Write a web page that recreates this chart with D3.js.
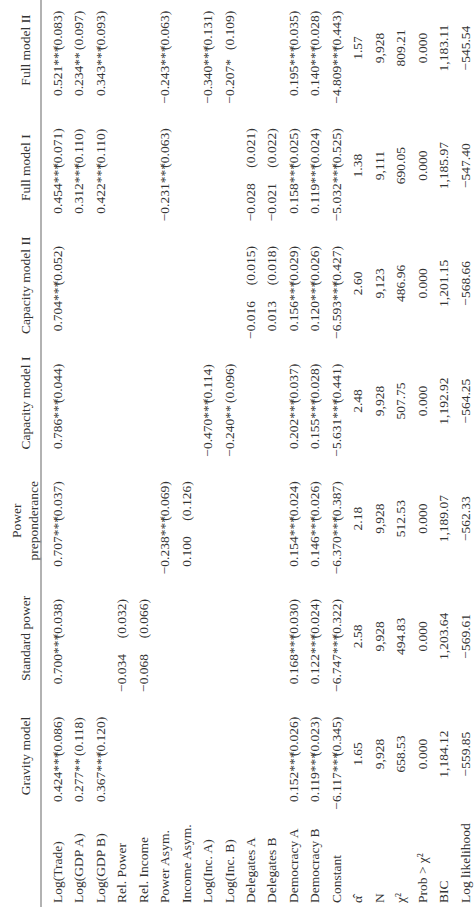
<!DOCTYPE html>
<html>
<head>
<meta charset="utf-8">
<script src="https://cdn.jsdelivr.net/npm/d3@7"></script>
<style>
  body { margin: 0; background: #fff; }
  text { font-family: "Liberation Serif", "DejaVu Serif", serif; font-size: 13.5px; fill: #333; }
</style>
</head>
<body>
<div id="chart"></div>
<script>
const models = ['Gravity model', 'Standard power', 'Power|preponderance', 'Capacity model I',
   'Capacity model II', 'Full model I', 'Full model II'];

const coefRows = ['Log(Trade)', 'Log(GDP A)', 'Log(GDP B)', 'Rel. Power', 'Rel. Income', 'Power Asym.',
   'Income Asym.', 'Log(Inc. A)', 'Log(Inc. B)', 'Delegates A', 'Delegates B', 'Democracy A',
   'Democracy B', 'Constant'];
const statRows = ['α̂', 'N', 'χ²', 'Prob > χ²', 'BIC', 'Log likelihood'];

// coefficient cells: [estimate, stars, se] or null, one list per model
const coefs = [
   [['0.424', '***', '0.086'], ['0.277', '**', '0.118'], ['0.367', '***', '0.120'], null, null, null, null, null, null, null, null,
    ['0.152', '***', '0.026'], ['0.119', '***', '0.023'], ['−6.117', '***', '0.345']],
   [['0.700', '***', '0.038'], null, null, ['−0.034', '', '0.032'], ['−0.068', '', '0.066'], null, null, null, null, null, null,
    ['0.168', '***', '0.030'], ['0.122', '***', '0.024'], ['−6.747', '***', '0.322']],
   [['0.707', '***', '0.037'], null, null, null, null, ['−0.238', '***', '0.069'], ['0.100', '', '0.126'], null, null, null, null,
    ['0.154', '***', '0.024'], ['0.146', '***', '0.026'], ['−6.370', '***', '0.387']],
   [['0.786', '***', '0.044'], null, null, null, null, null, null, ['−0.470', '***', '0.114'], ['−0.240', '**', '0.096'], null, null,
    ['0.202', '***', '0.037'], ['0.155', '***', '0.028'], ['−5.631', '***', '0.441']],
   [['0.704', '***', '0.052'], null, null, null, null, null, null, null, null, ['−0.016', '', '0.015'], ['0.013', '', '0.018'],
    ['0.156', '***', '0.029'], ['0.120', '***', '0.026'], ['−6.593', '***', '0.427']],
   [['0.454', '***', '0.071'], ['0.312', '***', '0.110'], ['0.422', '***', '0.110'], null, null, ['−0.231', '***', '0.063'], null, null, null,
    ['−0.028', '', '0.021'], ['−0.021', '', '0.022'], ['0.158', '***', '0.025'], ['0.119', '***', '0.024'], ['−5.032', '***', '0.525']],
   [['0.521', '***', '0.083'], ['0.234', '**', '0.097'], ['0.343', '***', '0.093'], null, null, ['−0.243', '***', '0.063'], null,
    ['−0.340', '***', '0.131'], ['−0.207', '*', '0.109'], null, null, ['0.195', '***', '0.035'], ['0.140', '***', '0.028'], ['−4.809', '***', '0.443']],
];

const alphaVals = ['1.65', '2.58', '2.18', '2.48', '2.60', '1.38', '1.57'];
const nVals = ['9,928', '9,928', '9,928', '9,928', '9,123', '9,111', '9,928'];
const chiVals = ['658.53', '494.83', '512.53', '507.75', '486.96', '690.05', '809.21'];
const probVals = ['0.000', '0.000', '0.000', '0.000', '0.000', '0.000', '0.000'];
const bicVals = ['1,184.12', '1,203.64', '1,189.07', '1,192.92', '1,201.15', '1,185.97', '1,183.11'];
const llVals = ['−559.85', '−569.61', '−562.33', '−564.25', '−568.66', '−547.40', '−545.54'];
const statVals = [alphaVals, nVals, chiVals, probVals, bicVals, llVals];

const W = 474, H = 907;
const svg = d3.select('#chart').append('svg').attr('width', W).attr('height', H);
// the table is laid out unrotated (width H, height W), then turned a quarter
const g = svg.append('g').attr('transform', `translate(0,${H}) rotate(-90)`);

const allRows = coefRows.concat(statRows);
const y = d3.scalePoint().domain(allRows).range([57, 465]);
const x = d3.scalePoint().domain(models).range([151, 857]);

// header
models.forEach((m) => {
   const lines = m.split('|');
   lines.forEach((l, i) => {
      g.append('text')
         .attr('x', x(m))
         .attr('y', 25 + (i - (lines.length - 1) / 2) * 17)
         .attr('dy', '0.35em')
         .attr('text-anchor', 'middle')
         .text(l);
   });
});

g.append('line')
   .attr('x1', 0).attr('x2', H)
   .attr('y1', 41).attr('y2', 41)
   .attr('stroke', '#999').attr('stroke-width', 1.5);

// row labels
g.selectAll('.row-label')
   .data(allRows)
   .join('text')
   .attr('class', 'row-label')
   .attr('x', 4)
   .attr('y', (d) => y(d))
   .attr('dy', '0.35em')
   .text((d) => d);

const minusW = (() => {
   const t = g.append('text').text('−');
   const w = t.node().getComputedTextLength();
   t.remove();
   return w;
})();

models.forEach((m, mi) => {
   const start = x(m) - 46;
   coefs[mi].forEach((c, ri) => {
      if (!c) return;
      const neg = c[0].startsWith('−');
      g.append('text')
         .attr('x', neg ? start - minusW : start)
         .attr('y', y(coefRows[ri]))
         .attr('dy', '0.35em')
         .text(c[0] + c[1]);
      g.append('text')
         .attr('x', start + 46)
         .attr('y', y(coefRows[ri]))
         .attr('dy', '0.35em')
         .text(`(${c[2]})`);
   });
   statRows.forEach((s, si) => {
      g.append('text')
         .attr('x', x(m) + 2)
         .attr('y', y(s))
         .attr('dy', '0.35em')
         .attr('text-anchor', 'middle')
         .text(statVals[si][mi]);
   });
});
</script>
</body>
</html>
